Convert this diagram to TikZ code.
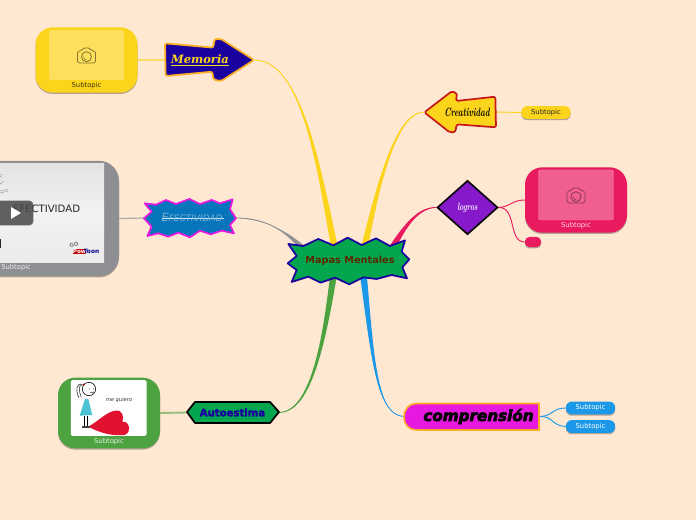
\documentclass[tikz,border=0pt]{standalone}
\usepackage{fontspec}
\usetikzlibrary{calc,shadows,backgrounds,shapes.geometric}
\setmainfont{DejaVu Sans}
\newfontfamily\serifbi{DejaVu Serif}[UprightFont=* Bold Italic]
\newfontfamily\heavyob{DejaVu Sans}[UprightFont=* Bold Oblique,FakeBold=4]
\newfontfamily\heavyup{DejaVu Sans}[UprightFont=* Bold,FakeBold=2.5]
\newfontfamily\lmbi{lmroman10-bolditalic}[Extension=.otf]
\definecolor{bgc}{HTML}{FFE8D2}
\definecolor{yel}{HTML}{FCD41C}
\definecolor{yellite}{HTML}{FDDF5B}
\definecolor{pnk}{HTML}{E91A5E}
\definecolor{pnklite}{HTML}{F05F90}
\definecolor{grn}{HTML}{4CA340}
\definecolor{blu}{HTML}{1B98E8}
\definecolor{gry}{HTML}{8D8F92}
\definecolor{emer}{HTML}{03A64F}
\definecolor{navy}{HTML}{1A009E}
\definecolor{orng}{HTML}{FBAE22}
\definecolor{mag}{HTML}{E719E0}
\definecolor{ocean}{HTML}{0675BB}
\definecolor{purp}{HTML}{861ACB}
\definecolor{brn}{HTML}{5A2800}
\definecolor{heartc}{HTML}{E0122F}
\definecolor{dressc}{HTML}{4CC3D4}
\tikzset{
 x=.75pt,y=-.75pt,
 sh/.style={drop shadow={shadow xshift=0pt,shadow yshift=-1pt,opacity=.3,fill=black}},
 bigbox/.style={sh,rounded corners=13pt,inner sep=0pt,minimum width=76.5pt,minimum height=49pt},
 inner/.style={rounded corners=1.2pt,inner sep=0pt,minimum width=56.2pt,minimum height=37.5pt},
 pill/.style={sh,rounded corners=4.5pt,inner sep=0pt,minimum width=37pt,minimum height=9.6pt,font=\fontsize{5.1}{6}\selectfont},
 sub/.style={font=\fontsize{5.1}{6}\selectfont,inner sep=0pt},
 shape outline/.style={line width=1.3pt,line join=round},
 thin link/.style={line width=.7pt},
}
\newcommand{\branch}[6]{%
 \fill[#1] (#2) .. controls (#3) and (#4) .. ($(#5)+(-#6,0)$) -- ($(#5)+(#6,0)$) .. controls ($(#4)+(#6*.95,0)$) and ($(#3)+(#6*.2,#6*.5)$) .. (#2) -- cycle;
 \draw[#1,line width=.6pt] (#2) .. controls (#3) and (#4) .. (#5);}
\newcommand{\camera}[3]{%
 \begin{scope}[shift={(#1,#2)},draw=#3,line width=.6pt,rounded corners=1.2pt]
  \draw (-9,-4) -- (-5,-4) -- (-3.5,-7) -- (3.5,-7) -- (5,-4) -- (9,-4) -- (9,8) -- (-9,8) -- cycle;
  \draw (0,1.7) circle[radius=5];
  \draw[line width=.4pt] (-3,1.7) arc[start angle=180,end angle=90,radius=3];
 \end{scope}}
\pgfdeclarelayer{links}
\pgfsetlayers{background,links,main}
\begin{document}
\begin{tikzpicture}
\useasboundingbox (0,0) rectangle (696,520);
\begin{scope}[on background layer]
 \fill[bgc] (0,0) rectangle (696,520);
\end{scope}

% central burst
\begin{scope}[shift={(270,170)},x=.25pt,y=-.25pt]
\draw[shape outline,fill=emer,draw=navy] (55,222)--(100,228)--(145,207)--(190,226)--(233,203)--(275,225)--(318,205)--(360,228)--(405,211)--(395,245)--(418,268)--(397,292)--(411,325)--(365,315)--(320,327)--(280,322)--(238,343)--(195,323)--(152,338)--(115,320)--(65,336)--(80,300)--(53,280)--(80,258)--cycle;
\end{scope}
\node[inner sep=0pt,font=\fontsize{7.3}{8}\selectfont\bfseries,text=brn] (central) at (350,260.5) {Mapas Mentales};
\coordinate (hubA) at (335,250);
\coordinate (hubB) at (305,250);
\coordinate (hubC) at (334,272);
\coordinate (hubD) at (364,250);
\coordinate (hubE) at (391,250);
\coordinate (hubF) at (363,272);

% Memoria
\begin{scope}[x=.25pt,y=-.25pt]
\draw[shape outline,fill=navy,draw=orng,rounded corners=1.6pt] (495,130)--(640,143)--(643,118)--(662,116)--(762,180)--(662,244)--(640,238)--(637,215)--(497,228)--cycle;
\end{scope}
\node[inner sep=0pt,text=yel,font=\fontsize{8.6}{10}\serifbi] (memoria) at (200,60.5) {\underline{Memoria}};
\coordinate (memoriaTip) at (254,60);
\coordinate (memoriaTail) at (165,60);
\node[bigbox,fill=yel] (memoriaBox) at (86.5,60) {};
\node[inner,fill=yellite] (memoriaImg) at (86.5,55) {};
\camera{86.5}{55}{black!48!yellite}
\node[sub,text=black!75!yel] (memoriaSub) at (86.5,85.5) {Subtopic};

% Efectividad
\begin{scope}[shift={(140,190)},x=.25pt,y=-.25pt]
\draw[shape outline,fill=ocean,draw=mag] (14,40)--(48,44)--(78,30)--(108,42)--(148,27)--(180,42)--(215,30)--(240,40)--(278,28)--(270,58)--(288,85)--(270,105)--(282,130)--(245,122)--(212,133)--(180,122)--(150,142)--(115,128)--(85,140)--(55,130)--(22,138)--(35,110)--(12,85)--(35,65)--cycle;
\end{scope}
\node[inner sep=0pt,text=white!45!ocean,font=\fontsize{6.7}{8}\selectfont\itshape] (efectiv) at (192,217) {\rlap{\color{white!85!ocean}\raisebox{2pt}{\rule{47pt}{.55pt}}}{\fontsize{8.5}{8}\selectfont E}FECTIVIDAD};
\coordinate (efectivR) at (236,218);
\coordinate (efectivL) at (145,218);
\node[sh,fill=gry,rounded corners=15pt,inner sep=0pt,minimum width=105pt,minimum height=86.5pt] (video) at (49,218.5) {};
\shade[top color=black!11,bottom color=black!8,middle color=black!5] (-20,163.5) rectangle (104,262.5);
\node[inner sep=0pt,text=black!85,font=\fontsize{7.6}{8}\selectfont] (videoTitle) at (46.5,209) {EFECTIVIDAD};
\node[fill=black!72,fill opacity=.85,rounded corners=3pt,inner sep=0pt,minimum width=29pt,minimum height=18.5pt] (play) at (14,213) {};
\fill[white] (11,207) -- (21,213) -- (11,219) -- cycle;
\draw[black!60,line width=.3pt,dash pattern=on 1pt off .7pt] (0,177) -- (2,174) (0,184) -- (4,181) (0,191) -- (9,189) (0,193) -- (8,191);
\fill[black!85] (0,239) rectangle (1,248);
\node[inner sep=.3pt,fill=red!75!black,text=white,font=\fontsize{4.2}{4}\selectfont\bfseries] (logoa) at (79.5,251.5) {Pow};
\node[inner sep=0pt,text=blue!55!black,font=\fontsize{4.4}{4}\selectfont\bfseries] (logob) at (91.5,251.5) {Toon};
\node[inner sep=0pt,text=black!55,font=\fontsize{4}{3}\selectfont\bfseries,rotate=10] (logoc) at (74,245) {GO};
\node[sub,text=white!85!gry,anchor=west] (videoSub) at (1,268) {Subtopic};

% Autoestima
\begin{scope}[x=.25pt,y=-.25pt]
\draw[shape outline,fill=emer,draw=black] (561,1236)--(585,1206)--(810,1206)--(837,1236)--(810,1269)--(585,1269)--cycle;
\end{scope}
\node[inner sep=0pt,text=navy,font=\fontsize{7.6}{8}\heavyup] (autoestima) at (232.5,412.5) {Autoestima};
\coordinate (autoR) at (279,412.5);
\coordinate (autoL) at (187,412.5);
\node[sh,fill=grn,rounded corners=13pt,inner sep=0pt,minimum width=76.5pt,minimum height=53pt] (autoBox) at (109,413) {};
\node[fill=white,rounded corners=1pt,inner sep=0pt,minimum width=56.7pt,minimum height=41.7pt] (autoImg) at (108.7,408) {};
\begin{scope}[shift={(65,375)},x=.25pt,y=-.25pt]
 \fill[heartc] (70,155) .. controls (105,135) and (125,110) .. (152,107) .. controls (172,104) and (178,125) .. (172,140) .. controls (195,138) and (202,172) .. (178,180) .. controls (140,184) and (100,172) .. (70,155) -- cycle;
 \fill[dressc] (60,72) -- (44,122) -- (82,120) -- (70,72) -- cycle;
 \draw[black,line width=.35pt] (57,122) -- (57,153) (67,122) -- (67,153);
 \fill[black!75] (52,153) rectangle (76,160);
 \draw[black,line width=.45pt,fill=white] (72,42) circle[radius=20];
 \draw[black!70,line width=.5pt] (54,30) .. controls (35,20) and (30,45) .. (42,68) (50,30) .. controls (40,30) and (42,50) .. (48,65);
 \fill[red!80!black] (57,28) circle[radius=3];
 \fill[black] (72,42) circle[radius=1.5] (86,42) circle[radius=1.5];
 \draw[black,line width=.3pt] (76,52) .. controls (80,55) and (84,54) .. (86,50);
\end{scope}
\node[inner sep=0pt,text=black!80,font=\fontsize{3.9}{5}\selectfont\itshape] (autoText) at (119,400) {me quiero};
\node[sub,text=white!85!grn] (autoSub) at (109,441.5) {Subtopic};

% Creatividad
\begin{scope}[shift={(410,80)},x=.25pt,y=-.25pt]
\draw[shape outline,fill=yel,draw=red!75!black!90,rounded corners=1.6pt] (43,97)--(125,34)--(141,40)--(138,63)--(256,50)--(258,142)--(140,133)--(136,156)--(120,158)--cycle;
\end{scope}
\node[inner sep=0pt,text=black,font=\fontsize{9}{10}\lmbi,xscale=.66,transform shape] (creativ) at (467,112.5) {Creatividad};
\coordinate (creaL) at (424,112);
\coordinate (creaR) at (496,112);
\node[pill,fill=yel,text=black!85] (creaSub) at (546,112.5) {Subtopic};

% Logros
\node[draw=black,line width=1.2pt,fill=purp,diamond,aspect=1.15,inner sep=0pt,minimum width=45.5pt,minimum height=40.5pt] (logros) at (467.5,207.5) {};
\node[inner sep=0pt,text=white,font=\fontsize{8}{9}\lmbi,xscale=.66,transform shape] (logrosText) at (467.5,207.5) {logros};
\node[bigbox,fill=pnk] (logrosBox) at (576,200) {};
\node[inner,fill=pnklite,draw=white!30!pnklite,line width=.3pt] (logrosImg) at (576,195) {};
\camera{576}{195}{black!42!pnklite}
\node[sub,text=white!85!pnk] (logrosSub) at (576,225.5) {Subtopic};
\node[sh,fill=pnk,rounded corners=3.5pt,inner sep=0pt,minimum width=12.2pt,minimum height=7.6pt] (logrosPill) at (533,242) {};

% Comprension
\draw[fill=mag,draw=orng,line width=1.2pt] (539,403.5) -- (418,403.5) .. controls (408,403.5) and (404,410) .. (404,417) .. controls (404,424) and (408,430) .. (418,430) -- (539,430) -- cycle;
\node[inner sep=0pt,text=black,font=\fontsize{11.4}{12}\heavyob] (compr) at (478.5,416.5) {comprensión};
\coordinate (comprL) at (404,416.5);
\coordinate (comprR) at (540,416.5);
\node[pill,fill=blu,text=white] (comprA) at (590.5,408) {Subtopic};
\node[pill,fill=blu,text=white] (comprB) at (590.5,426.5) {Subtopic};

\begin{pgfonlayer}{links}
 \branch{yel}{memoriaTip}{300,60}{315,155}{hubA}{3.5}
 \branch{gry}{efectivR}{268,218}{285,232}{hubB}{4}
 \branch{grn}{autoR}{310,412}{322,345}{hubC}{3.5}
 \branch{yel}{creaL}{395,112}{375,190}{hubD}{3.5}
 \branch{pnk}{logros.west}{418,207}{403,225}{hubE}{4}
 \branch{blu}{comprL}{375,416}{370,345}{hubF}{3.5}
 \draw[yel!60!bgc,line width=1.4pt] (memoriaBox.east) -- (memoriaTail);
 \draw[gry!70!bgc,line width=.9pt] (video.east) -- (efectivL);
 \draw[grn!60!bgc,line width=1.4pt] (autoBox.east) -- (autoL);
 \draw[yel,thin link] (creaR) -- (creaSub.west);
 \draw[pnk,thin link] (logros.east) .. controls (510,207) and (512,200) .. (logrosBox.west);
 \draw[pnk,thin link] (logros.east) .. controls (517,207) and (508,242) .. (logrosPill.west);
 \draw[blu,thin link] (comprR) .. controls (553,416) and (552,408) .. (comprA.west);
 \draw[blu,thin link] (comprR) .. controls (553,416) and (552,426) .. (comprB.west);
\end{pgfonlayer}
\end{tikzpicture}
\end{document}
